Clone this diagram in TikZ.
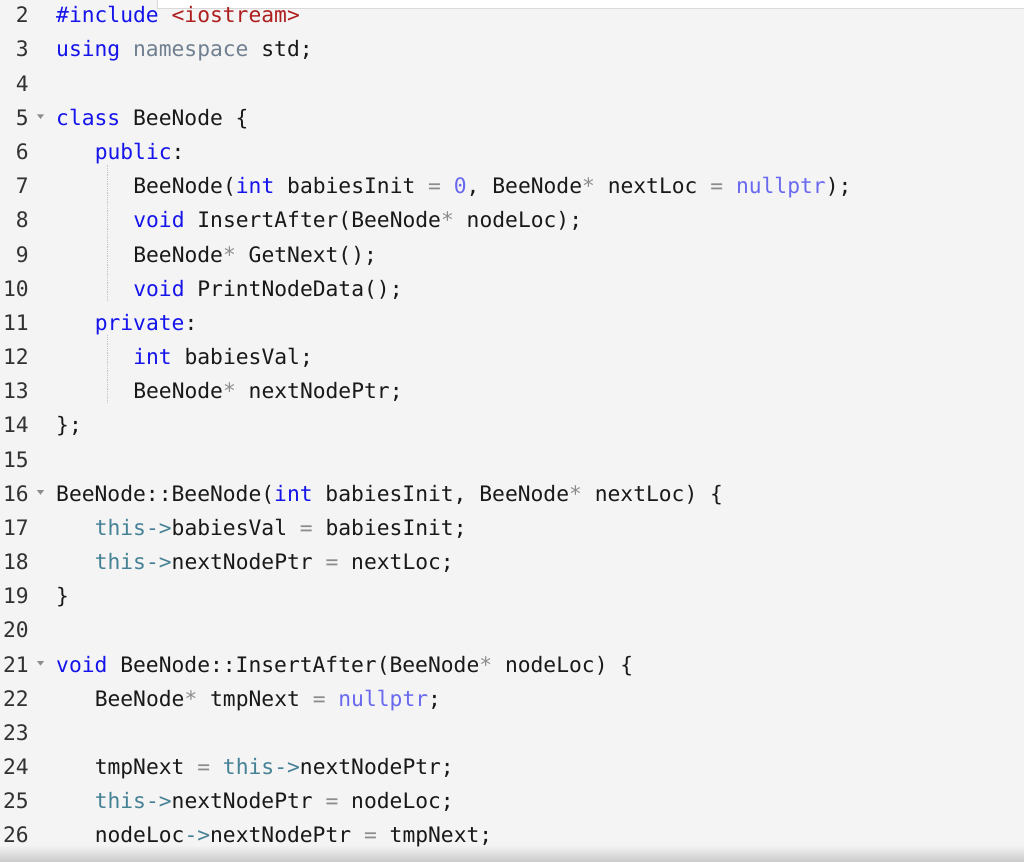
\documentclass[tikz,border=0pt]{standalone}
\usepackage{fontspec}
\newfontfamily\codefont[WordSpace={1,0,0}]{DejaVu Sans Mono}
\definecolor{bg}{RGB}{244,244,244}
\definecolor{kwc}{RGB}{20,20,235}
\definecolor{nsc}{RGB}{112,128,144}
\definecolor{incc}{RGB}{175,30,30}
\definecolor{litc}{RGB}{105,105,240}
\definecolor{thc}{RGB}{70,130,150}
\definecolor{opc}{RGB}{140,140,140}
\definecolor{txc}{RGB}{25,25,25}
\definecolor{lnc}{RGB}{50,50,50}
\newcommand\kw[1]{\textcolor{kwc}{#1}}
\newcommand\nsp[1]{\textcolor{nsc}{#1}}
\newcommand\inc[1]{\textcolor{incc}{#1}}
\newcommand\lit[1]{\textcolor{litc}{#1}}
\newcommand\thp[1]{\textcolor{thc}{#1}}
\newcommand\op[1]{\textcolor{opc}{#1}}
\begin{document}
\begin{tikzpicture}[x=1pt,y=1pt,
  codeline/.style={anchor=base west,inner sep=0pt,font=\codefont\fontsize{21.3}{26}\selectfont,text=txc},
  lnum/.style={anchor=base east,inner sep=0pt,font=\codefont\fontsize{21.3}{26}\selectfont,text=lnc},
  fold/.style={fill=opc,draw=none},
  guide/.style={draw=gray!45,densely dotted,line width=0.8pt}]
\fill[bg] (0,0) rectangle (1024,861);
\useasboundingbox (0,0) rectangle (1024,861);
\shade[top color=bg,bottom color=gray!40] (0,0) rectangle (1024,16);
\fill[white,draw=gray!30] (157,853) rectangle (1030,870);
\def\cw{12.85}
\def\lh{34.17}
\foreach \n in {2,...,26}{
  \node[lnum] (ln\n) at (29,{861-57-(\n-3)*\lh}) {\n};
}
\newcommand\cl[3]{\node[codeline] (c#1) at ({56+#2*\cw},{861-57-(#1-3)*\lh}) {#3};}
\cl{2}{0}{\kw{\#include} \inc{<iostream>}}
\cl{3}{0}{\kw{using} \nsp{namespace} std;}
\cl{5}{0}{\kw{class} BeeNode \{}
\cl{6}{3}{\kw{public}:}
\cl{7}{6}{BeeNode(\kw{int} babiesInit \op{=} \lit{0}, BeeNode\op{*} nextLoc \op{=} \lit{nullptr});}
\cl{8}{6}{\kw{void} InsertAfter(BeeNode\op{*} nodeLoc);}
\cl{9}{6}{BeeNode\op{*} GetNext();}
\cl{10}{6}{\kw{void} PrintNodeData();}
\cl{11}{3}{\kw{private}:}
\cl{12}{6}{\kw{int} babiesVal;}
\cl{13}{6}{BeeNode\op{*} nextNodePtr;}
\cl{14}{0}{\};}
\cl{16}{0}{BeeNode::BeeNode(\kw{int} babiesInit, BeeNode\op{*} nextLoc) \{}
\cl{17}{3}{\thp{this->}babiesVal \op{=} babiesInit;}
\cl{18}{3}{\thp{this->}nextNodePtr \op{=} nextLoc;}
\cl{19}{0}{\}}
\cl{21}{0}{\kw{void} BeeNode::InsertAfter(BeeNode\op{*} nodeLoc) \{}
\cl{22}{3}{BeeNode\op{*} tmpNext \op{=} \lit{nullptr};}
\cl{24}{3}{tmpNext \op{=} \thp{this->}nextNodePtr;}
\cl{25}{3}{\thp{this->}nextNodePtr \op{=} nodeLoc;}
\cl{26}{3}{nodeLoc\thp{->}nextNodePtr \op{=} tmpNext;}
\foreach \n in {5,16,21}{
  \fill[fold] ([xshift=8pt,yshift=11pt]ln\n.base east) -- ++(7,0) -- ++(-3.5,-4.5) -- cycle;
}
\draw[guide] (107,{861-57-3.5*\lh+12}) -- (107,{861-57-7.5*\lh+12});
\draw[guide] (107,{861-57-8.5*\lh+12}) -- (107,{861-57-10.5*\lh+12});
\end{tikzpicture}
\end{document}
